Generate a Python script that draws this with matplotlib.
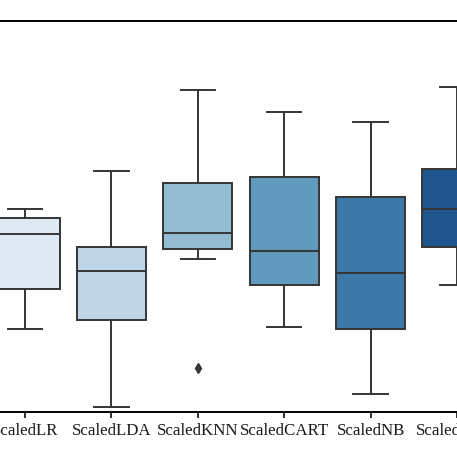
import matplotlib
matplotlib.use("Agg")
import matplotlib.pyplot as plt
import seaborn as sns

names = ['ScaledLR', 'ScaledLDA', 'ScaledKNN', 'ScaledCART', 'ScaledNB', 'ScaledSVM']
whislo = [0.685, 0.605, 0.757, 0.687, 0.618, 0.730]
q1 = [0.726, 0.694, 0.767, 0.730, 0.685, 0.769]
med = [0.782, 0.744, 0.783, 0.765, 0.742, 0.808]
q3 = [0.798, 0.769, 0.834, 0.840, 0.820, 0.849]
whishi = [0.808, 0.847, 0.929, 0.907, 0.897, 0.932]
fliers = [[], [], [0.645], [], [], []]

stats = []
for i, n in enumerate(names):
    stats.append(dict(label=n, whislo=whislo[i], q1=q1[i], med=med[i],
                      q3=q3[i], whishi=whishi[i], fliers=fliers[i]))

colors = [sns.desaturate(c, 0.75) for c in sns.color_palette("Blues", 6)]
edge = '#353535'

fig = plt.figure(figsize=(4.57, 4.57), dpi=100)
ax = fig.add_axes([0, 0.0985, 1, 0.8555])

bp = ax.bxp(stats, positions=range(len(names)), widths=0.8, patch_artist=True,
            boxprops=dict(edgecolor=edge, linewidth=1.4),
            medianprops=dict(color=edge, linewidth=1.4),
            whiskerprops=dict(color=edge, linewidth=1.4),
            capprops=dict(color=edge, linewidth=1.4),
            capwidths=0.4,
            flierprops=dict(marker='d', markerfacecolor=edge, markeredgecolor=edge,
                            markersize=5))
for patch, c in zip(bp['boxes'], colors):
    patch.set_facecolor(c)

ax.set_xlim(-0.29, 4.945)
ax.set_ylim(0.60, 1.00)
ax.set_yticks([])
ax.spines['left'].set_visible(False)
ax.spines['right'].set_visible(False)
ax.spines['top'].set_linewidth(1.4)
ax.spines['bottom'].set_linewidth(1.4)
ax.tick_params(axis='x', length=4, width=1.3, color='#222222', pad=4)
ax.set_xticks(range(len(names)))
ax.set_xticklabels(names, fontfamily='Liberation Serif', fontsize=12.2, color='#1a1a1a')

fig.savefig('out.png', dpi=100)
